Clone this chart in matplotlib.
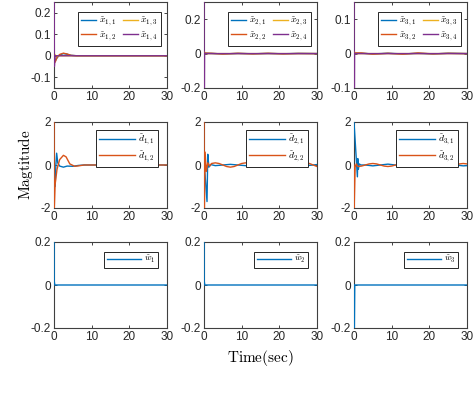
import matplotlib
matplotlib.use('Agg')
import matplotlib.pyplot as plt

plt.rcParams['font.family'] = ['Liberation Sans', 'DejaVu Sans']
plt.rcParams['mathtext.fontset'] = 'cm'
plt.rcParams['axes.unicode_minus'] = False

C = ['#0072BD', '#D95319', '#EDB120', '#7E2F8E']

# ---- row 1 : state errors x~ ----
x1_t = [0, 0.3, 0.8, 1.5, 2.5, 3.5, 4.5, 6, 30]
x11 = [0, -0.025, -0.01, 0.004, 0.010, 0.007, 0.002, 0, 0]
x12 = [0, -0.030, -0.008, 0.006, 0.012, 0.008, 0.002, 0, 0]
x13_t = [0, 0.5, 30]
x13 = [0.01, 0, 0]
x14_t = [0, 0.1, 0.3, 30]
x14 = [0.6, -0.05, 0, 0]

x2_t = [0, 0.1, 0.3, 2, 5, 9, 13, 17, 21, 25, 30]
x21 = [0, 0.008, 0.002, 0.001, -0.002, 0.001, -0.001, 0.001, -0.001, 0.001, 0]
x22 = [0, 0.010, 0.003, 0.002, -0.003, 0.002, -0.002, 0.002, -0.002, 0.001, 0]
x23_t = [0, 0.3, 30]
x23 = [0.01, 0, 0]
x24_t = [0, 0.05, 0.15, 30]
x24 = [0.6, -0.5, 0, 0]

x3_t = [0, 0.1, 0.3, 2, 5, 9, 13, 17, 21, 25, 30]
x31 = [0, 0.004, 0.001, 0.001, -0.001, 0.001, -0.001, 0.001, -0.001, 0.001, 0]
x32 = [0, 0.005, 0.002, 0.002, -0.002, 0.001, -0.002, 0.002, -0.001, 0.001, 0]
x33_t = [0, 0.3, 30]
x33 = [0.005, 0, 0]
x34_t = [0, 0.05, 0.15, 30]
x34 = [0.5, -0.3, 0, 0]

# ---- row 2 : disturbance errors d~ ----
d11_t = [0, 0.3, 0.5, 0.7, 1.0, 1.5, 2.5, 3.5, 5, 6.5, 8, 30]
d11 = [0, -1.0, 0.0, 0.55, 0.1, -0.05, -0.1, -0.05, -0.06, -0.02, 0, 0]
d12_t = [0, 0.08, 0.3, 0.8, 1.5, 2.5, 3.2, 4.2, 5.5, 6.5, 8, 30]
d12 = [2, -2, -0.9, -0.2, 0.25, 0.45, 0.38, 0.05, -0.06, -0.04, 0, 0]

d21_t = [0, 0.3, 0.8, 1.0, 1.3, 1.8, 3, 5, 7, 9, 11, 13, 15, 17, 19, 21, 23, 25, 27, 29, 30]
d21 = [0, -0.5, -1.7, 0.5, -0.1, 0.02, -0.03, 0, 0.03, 0, -0.03, 0, 0.03, 0, -0.03, 0, 0.03, 0, -0.03, 0, 0.02]
d22_t = [0, 0.1, 0.3, 0.6, 1.0, 1.5, 2, 3, 4, 5, 6, 7, 8, 9, 10, 11, 12, 13, 14, 15,
         16, 17, 18, 19, 20, 21, 22, 23, 24, 25, 26, 27, 28, 29, 30]
d22 = [2, -2, 0.6, -0.3, 0.1, -0.05, 0.07, 0.1, 0.07, 0, -0.07, -0.1, -0.07, 0, 0.07, 0.1,
       0.07, 0, -0.07, -0.1, -0.07, 0, 0.07, 0.1, 0.07, 0, -0.07, -0.1, -0.07, 0, 0.07, 0.1,
       0.07, 0, -0.07]

d31_t = [0, 0.9, 1.0, 1.15, 1.4, 1.8, 3, 5, 7, 9, 11, 13, 15, 17, 19, 21, 23, 25, 27, 29, 30]
d31 = [2, -0.55, 0.3, -0.2, 0.05, 0, 0, -0.04, 0, 0.04, 0, -0.04, 0, 0.04, 0, -0.04, 0, 0.04, 0, -0.04, -0.03]
d32_t = [0, 0.05, 0.3, 0.6, 1, 2, 3, 4, 5, 6, 7, 8, 9, 10, 11, 12, 13, 14, 15, 16, 17,
         18, 19, 20, 21, 22, 23, 24, 25, 26, 27, 28, 29, 30]
d32 = [0, -2, -0.1, 0.05, -0.07, -0.05, 0, 0.05, 0.07, 0.05, 0, -0.05, -0.07, -0.05, 0,
       0.05, 0.07, 0.05, 0, -0.05, -0.07, -0.05, 0, 0.05, 0.07, 0.05, 0, -0.05, -0.07,
       -0.05, 0, 0.05, 0.07, 0.05]

# ---- row 3 : w~ ----
w_t = [0, 0.05, 0.2, 30]
w1 = [0.3, 0.02, 0, 0]
w2 = [0.3, 0.02, 0, 0]
w3 = [0, -0.3, 0, 0]

xticks = [0, 10, 20, 30]
row1_ylim = [(-0.15, 0.25), (-0.2, 0.3), (-0.1, 0.15)]
row1_yticks = [[-0.1, 0, 0.1, 0.2], [-0.2, 0, 0.2], [-0.1, 0, 0.1]]


def fmt(v):
    return '0' if v == 0 else ('%g' % v)


fig = plt.figure(figsize=(4.74, 3.94), dpi=100)
W, H = 474.0, 394.0
lefts = [54, 204, 354]
tops = [2, 122, 242]
aw, ah = 113, 86


def make_ax(r, c):
    ax = fig.add_axes([lefts[c] / W, (H - tops[r] - ah) / H, aw / W, ah / H])
    ax.set_xlim(0, 30)
    ax.set_xticks(xticks)
    ax.set_xticklabels([str(v) for v in xticks])
    ax.tick_params(direction='in', length=2.5, width=0.6, labelsize=8.5,
                   top=True, right=True, colors='#262626', pad=2)
    for s in ax.spines.values():
        s.set_color('#404040')
        s.set_linewidth(0.8)
    return ax


lw = 1.0
leg_kw = dict(frameon=True, fancybox=False, edgecolor='#262626', framealpha=1,
              borderpad=0.3, labelspacing=0.2)

row1 = [
    [(x1_t, x11), (x1_t, x12), (x13_t, x13), (x14_t, x14)],
    [(x2_t, x21), (x2_t, x22), (x23_t, x23), (x24_t, x24)],
    [(x3_t, x31), (x3_t, x32), (x33_t, x33), (x34_t, x34)],
]
for c in range(3):
    ax = make_ax(0, c)
    for k, (t, v) in enumerate(row1[c]):
        ax.plot(t, v, color=C[k], lw=lw, zorder=3,
                label=r'$\tilde{x}_{%d,%d}$' % (c + 1, k + 1))
    ax.set_ylim(*row1_ylim[c])
    ax.set_yticks(row1_yticks[c])
    ax.set_yticklabels([fmt(v) for v in row1_yticks[c]])
    lg = ax.legend(loc='upper right', bbox_to_anchor=(0.99, 0.94), ncol=2,
                   fontsize=7, handlelength=1.5, columnspacing=0.7,
                   handletextpad=0.3, **leg_kw)
    lg.get_frame().set_linewidth(0.7)
    lg.set_zorder(5)

row2 = [
    [(d11_t, d11), (d12_t, d12)],
    [(d21_t, d21), (d22_t, d22)],
    [(d31_t, d31), (d32_t, d32)],
]
for c in range(3):
    ax = make_ax(1, c)
    for k, (t, v) in enumerate(row2[c]):
        ax.plot(t, v, color=C[k], lw=lw, zorder=3,
                label=r'$\tilde{d}_{%d,%d}$' % (c + 1, k + 1))
    ax.set_ylim(-2, 2)
    ax.set_yticks([-2, 0, 2])
    ax.set_yticklabels(['-2', '0', '2'])
    lg = ax.legend(loc='upper right', bbox_to_anchor=(0.96, 0.965),
                   fontsize=7, handlelength=3.7, handletextpad=0.3, **leg_kw)
    lg.get_frame().set_linewidth(0.7)
    lg.set_zorder(5)
    if c == 0:
        ax.set_ylabel(r'$\mathrm{Magtitude}$', fontsize=11, labelpad=4)

row3 = [w1, w2, w3]
for c in range(3):
    ax = make_ax(2, c)
    ax.plot(w_t, row3[c], color=C[0], lw=lw, zorder=3,
            label=r'$\tilde{w}_{%d}$' % (c + 1))
    ax.set_ylim(-0.2, 0.2)
    ax.set_yticks([-0.2, 0, 0.2])
    ax.set_yticklabels(['-0.2', '0', '0.2'])
    lg = ax.legend(loc='upper right', bbox_to_anchor=(0.96, 0.94),
                   fontsize=6.5, handlelength=3.8, handletextpad=0.3, **leg_kw)
    lg.get_frame().set_linewidth(0.7)
    lg.set_zorder(5)
    if c == 1:
        ax.set_xlabel(r'$\mathrm{Time(sec)}$', fontsize=11, labelpad=4)

fig.savefig('out.png', dpi=100)
